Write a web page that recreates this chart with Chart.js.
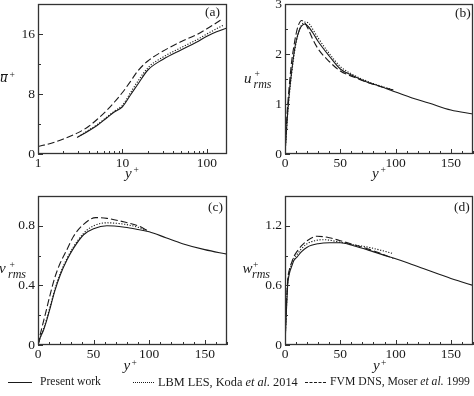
<!DOCTYPE html>
<html>
<head>
<meta charset="utf-8">
<script src="https://cdn.jsdelivr.net/npm/chart.js@4.4.0/dist/chart.umd.min.js"></script>
<style>
  html, body { margin: 0; padding: 0; background: #fff; }
  #fig { position: relative; width: 474px; height: 396px; overflow: hidden;
         font-family: 'Liberation Serif', 'DejaVu Serif', serif; color: #1a1a1a; }
  #fig canvas { position: absolute; }
  .t { position: absolute; white-space: nowrap; line-height: 1; }
  .key { position: absolute; height: 0; border-top: 1px #1a1a1a; }
</style>
</head>
<body>
<div id="fig">
  <canvas id="pa" width="237" height="190" style="left:0;top:0"></canvas>
  <canvas id="pb" width="237" height="190" style="left:237px;top:0"></canvas>
  <canvas id="pc" width="237" height="180" style="left:0;top:190px"></canvas>
  <canvas id="pd" width="237" height="180" style="left:237px;top:190px"></canvas>
</div>
<script>
// (a) mean velocity, log y+
const aPresentX = [2.9, 4, 5, 6.5, 8, 10, 12.5, 15, 20, 30, 50, 75, 100, 130, 173];
const aPresentY = [2.2, 3.1, 3.8, 4.8, 5.6, 6.3, 7.9, 9.2, 11.2, 12.6, 13.9, 14.9, 15.7, 16.3, 16.8];
const aLesX = [3, 4, 5, 6.5, 8, 10, 12.5, 15, 20, 30, 50, 75, 100, 130, 158];
const aLesY = [2.3, 3.2, 3.9, 4.9, 5.7, 6.5, 8.2, 9.6, 11.5, 12.9, 14.2, 15.2, 16.0, 16.7, 17.2];
const aDnsX = [1, 1.5, 2, 3, 4, 5, 6.5, 8, 10, 12.5, 15, 20, 30, 50, 75, 100, 130, 152];
const aDnsY = [1.0, 1.5, 2.0, 2.85, 3.7, 4.6, 5.8, 6.9, 8.2, 9.7, 11.0, 12.4, 13.7, 15.0, 15.9, 16.7, 17.5, 18.0];

// (b) u_rms
const bPresentX = [0, 1, 2, 4, 6, 8, 10, 13, 15, 18, 21, 25, 30, 40, 50, 62, 75, 85, 100, 115, 130, 150, 170];
const bPresentY = [0, 0.35, 0.7, 1.25, 1.65, 2.0, 2.25, 2.48, 2.56, 2.6, 2.55, 2.43, 2.25, 1.96, 1.7, 1.56, 1.43, 1.36, 1.24, 1.12, 1.02, 0.88, 0.8];
const bLesX = [0, 1, 2, 4, 6, 8, 10, 13, 16, 19, 22, 25, 30, 40, 50, 62, 75, 85, 98];
const bLesY = [0, 0.33, 0.68, 1.2, 1.6, 1.95, 2.22, 2.48, 2.61, 2.64, 2.6, 2.5, 2.32, 2.01, 1.75, 1.58, 1.45, 1.37, 1.28];
const bDnsX = [0, 1, 2, 4, 6, 8, 10, 12, 15, 18, 21, 25, 30, 40, 50, 62, 75, 85, 98];
const bDnsY = [0, 0.45, 0.85, 1.4, 1.85, 2.15, 2.4, 2.57, 2.67, 2.62, 2.5, 2.3, 2.1, 1.85, 1.66, 1.54, 1.43, 1.36, 1.28];

// (c) v_rms
const cPresentX = [0, 2, 5, 8, 11, 15, 20, 26, 32, 41, 50, 62, 78, 90, 100, 115, 130, 150, 170];
const cPresentY = [0, 0.05, 0.1, 0.17, 0.25, 0.36, 0.47, 0.57, 0.65, 0.74, 0.78, 0.80, 0.79, 0.775, 0.76, 0.72, 0.68, 0.64, 0.61];
const cLesX = [0, 2, 5, 8, 11, 15, 20, 26, 32, 41, 50, 62, 78, 90, 98];
const cLesY = [0, 0.05, 0.11, 0.18, 0.26, 0.37, 0.48, 0.58, 0.66, 0.75, 0.8, 0.82, 0.81, 0.79, 0.77];
const cDnsX = [0, 2, 5, 8, 11, 15, 20, 26, 32, 41, 52, 62, 78, 90, 98];
const cDnsY = [0, 0.07, 0.16, 0.25, 0.34, 0.45, 0.55, 0.64, 0.73, 0.81, 0.855, 0.85, 0.825, 0.80, 0.77];

// (d) w_rms
const dPresentX = [0, 1, 2.4, 4, 6.3, 8, 10.8, 15, 20, 30, 40, 50, 62, 77, 88, 98, 110, 125, 140, 150, 160, 170];
const dPresentY = [0, 0.27, 0.6, 0.72, 0.8, 0.85, 0.885, 0.94, 0.985, 1.02, 1.03, 1.03, 1.0, 0.95, 0.91, 0.875, 0.83, 0.77, 0.71, 0.67, 0.635, 0.6];
const dLesX = [0, 1, 2.4, 4, 6.3, 8, 10.8, 15, 20, 27, 35, 50, 62, 77, 88, 98];
const dLesY = [0, 0.28, 0.62, 0.74, 0.82, 0.87, 0.91, 0.97, 1.02, 1.05, 1.06, 1.035, 1.01, 0.98, 0.95, 0.92];
const dDnsX = [0, 1, 2.4, 4, 6.3, 8, 10.8, 15, 20, 29, 40, 50, 62, 77, 88, 98];
const dDnsY = [0, 0.33, 0.65, 0.76, 0.84, 0.89, 0.94, 1.0, 1.05, 1.095, 1.08, 1.05, 1.01, 0.96, 0.915, 0.87];

// tick labels
const aXTicks = [1, 10, 100];
const aYTicks = [0, 8, 16];
const linXTicks = [0, 50, 100, 150];
const bYTicks = [0, 1, 2, 3];
const cYTicks = [0, 0.4, 0.8];
const dYTicks = [0, 0.6, 1.2];

const seriesNames = ['Present work', 'LBM LES, Koda et al. 2014', 'FVM DNS, Moser et al. 1999'];
const dashes = [[], [1.2, 1.6], [7, 3]];
const INK = '#1a1a1a';

// draws the frame and the inward major / minor ticks
const frameTicks = {
  id: 'frameTicks',
  afterDraw(chart, args, o) {
    const { ctx, chartArea: a, scales: { x, y } } = chart;
    ctx.save();
    ctx.strokeStyle = '#333';
    ctx.lineWidth = 1;
    ctx.beginPath();
    const xt = (v, len) => {
      const p = Math.round(x.getPixelForValue(v)) + 0.5;
      ctx.moveTo(p, a.bottom); ctx.lineTo(p, a.bottom - len);
    };
    const yt = (v, len) => {
      const p = Math.round(y.getPixelForValue(v)) + 0.5;
      ctx.moveTo(a.left, p); ctx.lineTo(a.left + len, p);
    };
    o.xMajor.forEach(v => xt(v, 5));
    o.yMajor.forEach(v => yt(v, 5));
    if (o.xLog) {
      for (let d = 1; d <= 100; d *= 10)
        for (let m = 2; m <= 9; m++) if (m * d <= x.max) xt(m * d, 3);
    } else {
      for (let v = x.min; v <= x.max + 1e-9; v += o.xStep) if (!o.xMajor.includes(v)) xt(v, 3);
    }
    for (let v = y.min; v <= y.max + 1e-9; v += o.yStep) {
      const r = Math.round(v * 1000) / 1000;
      if (!o.yMajor.some(t => Math.abs(t - r) < 1e-6)) yt(r, 3);
    }
    ctx.stroke();
    ctx.lineWidth = 1.3;
    ctx.strokeRect(a.left + 0.5, a.top + 0.5, a.right - a.left - 1, a.bottom - a.top - 1);
    ctx.restore();
  }
};

function fixed(size, vals) {
  return {
    afterFit: s => {
      if (s.isHorizontal()) s.height = size; else s.width = size;
      s.paddingTop = s.paddingBottom = s.paddingLeft = s.paddingRight = 0;
    },
    afterBuildTicks: s => { s.ticks = vals.map(v => ({ value: v })); }
  };
}

function makePanel(id, p) {
  const datasets = p.series.map((s, i) => ({
    label: seriesNames[i],
    data: s[0].map((x, k) => ({ x: x, y: s[1][k] })),
    borderColor: INK,
    borderWidth: 1.1,
    borderDash: dashes[i],
    pointRadius: 0,
    fill: false,
    cubicInterpolationMode: 'monotone'
  }));
  const tickFont = { family: "'Liberation Serif', serif", size: 13.5 };
  return new Chart(document.getElementById(id), {
    type: 'line',
    data: { datasets },
    options: {
      responsive: false,
      animation: false,
      devicePixelRatio: 1,
      layout: { padding: { top: p.padTop, right: p.padRight, left: 0, bottom: 0 } },
      plugins: {
        legend: { display: false },
        tooltip: { enabled: false },
        frameTicks: { xMajor: p.xTicks, yMajor: p.yTicks, xLog: p.xType === 'logarithmic', xStep: 10, yStep: p.yStep }
      },
      scales: {
        x: Object.assign({
          type: p.xType, min: p.xMin, max: p.xMax,
          grid: { display: false, drawTicks: false }, border: { display: false },
          ticks: { color: INK, font: tickFont, padding: 1, autoSkip: false, maxRotation: 0, callback: v => String(v) }
        }, fixed(p.xH, p.xTicks)),
        y: Object.assign({
          type: 'linear', min: p.yMin, max: p.yMax,
          grid: { display: false, drawTicks: false }, border: { display: false },
          ticks: { color: INK, font: tickFont, padding: 3, autoSkip: false, callback: v => String(v) }
        }, fixed(p.yW, p.yTicks))
      }
    },
    plugins: [frameTicks]
  });
}

makePanel('pa', { xType: 'logarithmic', xMin: 1, xMax: 173, yMin: 0, yMax: 20, xTicks: aXTicks, yTicks: aYTicks, yStep: 4,
  series: [[aPresentX, aPresentY], [aLesX, aLesY], [aDnsX, aDnsY]], padTop: 4, padRight: 10, yW: 38, xH: 36 });
makePanel('pb', { xType: 'linear', xMin: 0, xMax: 170, yMin: 0, yMax: 3, xTicks: linXTicks, yTicks: bYTicks, yStep: 0.5,
  series: [[bPresentX, bPresentY], [bLesX, bLesY], [bDnsX, bDnsY]], padTop: 4, padRight: 1, yW: 48, xH: 36 });
makePanel('pc', { xType: 'linear', xMin: 0, xMax: 170, yMin: 0, yMax: 1.0, xTicks: linXTicks, yTicks: cYTicks, yStep: 0.2,
  series: [[cPresentX, cPresentY], [cLesX, cLesY], [cDnsX, cDnsY]], padTop: 6, padRight: 10, yW: 38, xH: 25 });
makePanel('pd', { xType: 'linear', xMin: 0, xMax: 170, yMin: 0, yMax: 1.5, xTicks: linXTicks, yTicks: dYTicks, yStep: 0.3,
  series: [[dPresentX, dPresentY], [dLesX, dLesY], [dDnsX, dDnsY]], padTop: 6, padRight: 1, yW: 48, xH: 25 });

// text placed by baseline
const fig = document.getElementById('fig');
function put(html, x, base, size, italic) {
  const s = document.createElement('span');
  s.className = 't';
  s.innerHTML = html;
  s.style.left = x + 'px';
  s.style.top = (base - 0.8375 * size) + 'px';
  s.style.fontSize = size + 'px';
  if (italic) s.style.fontStyle = 'italic';
  fig.appendChild(s);
}
function rule(x1, x2, y, style) {
  const d = document.createElement('div');
  d.className = 'key';
  d.style.left = x1 + 'px';
  d.style.top = y + 'px';
  d.style.width = (x2 - x1) + 'px';
  d.style.borderTopStyle = style;
  fig.appendChild(d);
}

// panel tags
put('(a)', 205, 16.5, 13.5);
put('(b)', 455, 17.5, 13.5);
put('(c)', 208, 211, 13.5);
put('(d)', 454, 211, 13.5);

// y titles
put('u', 0, 83, 15, true); rule(0.5, 8, 74, 'solid'); put('+', 9.5, 78.5, 9.5);
put('u', 244, 84, 15, true); put('+', 254.5, 77.5, 9.5); put('rms', 253.5, 88.5, 12, true);
put('v', -1, 273.5, 15, true); put('+', 9.5, 268.5, 9.5); put('rms', 8, 278, 12, true);
put('w', 242.5, 273.5, 15, true); put('+', 253, 268.5, 9.5); put('rms', 252, 278, 12, true);

// x titles
put('y', 125, 179, 15, true); put('+', 133.5, 173.5, 9.5);
put('y', 372, 179, 15, true); put('+', 380.5, 173.5, 9.5);
put('y', 123.5, 370.5, 15, true); put('+', 131.5, 366.5, 9.5);
put('y', 373, 370.5, 15, true); put('+', 381, 366.5, 9.5);

// legend
rule(8, 32, 381.5, 'solid');   put('Present work', 40, 386, 11.6);
rule(133, 154, 381.5, 'dotted'); put('LBM LES, Koda <i>et al.</i> 2014', 158, 386, 12.3);
rule(305, 326, 381.5, 'dashed'); put('FVM DNS, Moser <i>et al.</i> 1999', 330, 386, 11.7);
</script>
</body>
</html>
